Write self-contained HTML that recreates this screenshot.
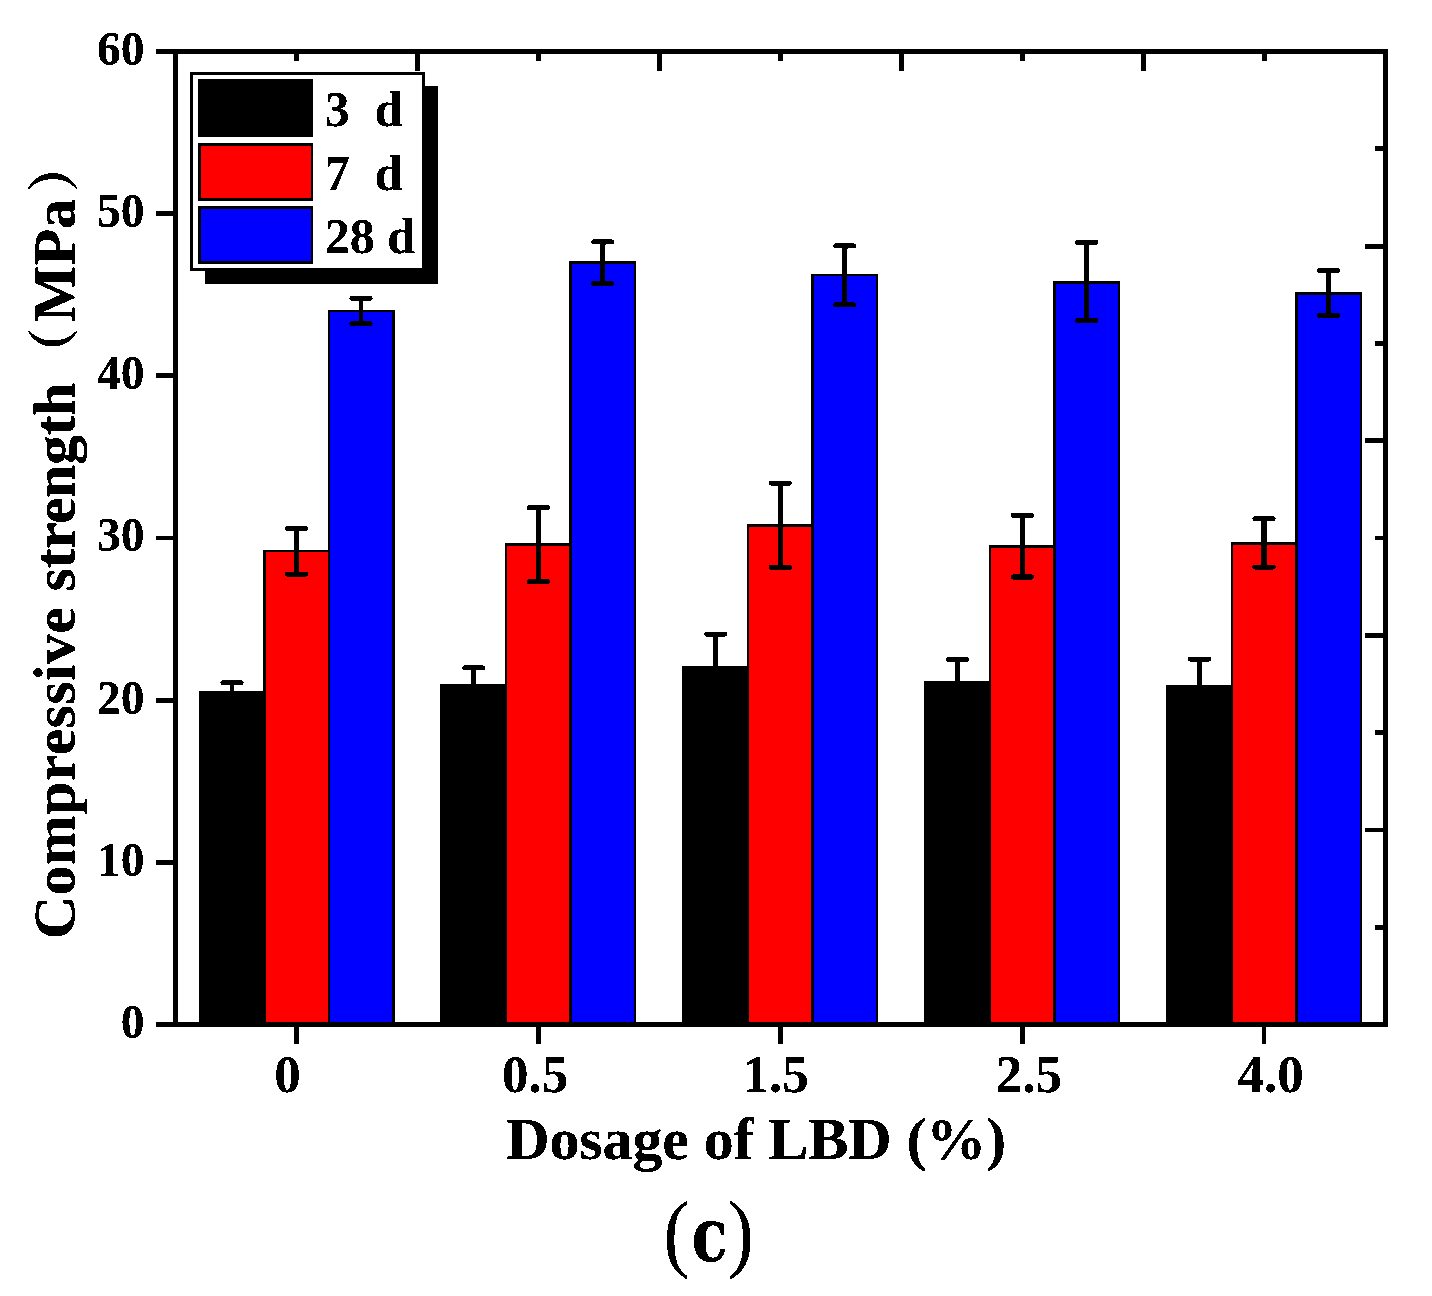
<!DOCTYPE html>
<html lang="en"><head><meta charset="utf-8"><title>Compressive strength vs dosage of LBD (c)</title>
<style>html,body{margin:0;padding:0;background:#fff}svg{display:block}text{font-family:"Liberation Serif","Noto Serif CJK SC",serif;font-weight:bold;fill:#000}</style></head><body>
<svg width="1432" height="1296" viewBox="0 0 1432 1296" shape-rendering="crispEdges">
<rect width="1432" height="1296" fill="#fff"/>
<defs><filter id="bin" filterUnits="userSpaceOnUse" x="0" y="0" width="1432" height="1296" color-interpolation-filters="sRGB"><feComponentTransfer><feFuncA type="discrete" tableValues="0 0 1 1 1"/></feComponentTransfer></filter></defs>
<g stroke="#000" stroke-width="2.5">
<rect x="199.75" y="691.95" width="64.50" height="332.55" fill="#000000"/>
<rect x="264.25" y="551.15" width="64.50" height="473.35" fill="#ff0000"/>
<rect x="328.75" y="310.95" width="64.50" height="713.55" fill="#0000ff"/>
<rect x="441.55" y="685.35" width="64.50" height="339.15" fill="#000000"/>
<rect x="506.05" y="544.55" width="64.50" height="479.95" fill="#ff0000"/>
<rect x="570.55" y="262.25" width="64.50" height="762.25" fill="#0000ff"/>
<rect x="683.55" y="666.95" width="64.50" height="357.55" fill="#000000"/>
<rect x="748.05" y="525.25" width="64.50" height="499.25" fill="#ff0000"/>
<rect x="812.55" y="275.15" width="64.50" height="749.35" fill="#0000ff"/>
<rect x="925.55" y="681.75" width="64.50" height="342.75" fill="#000000"/>
<rect x="990.05" y="546.35" width="64.50" height="478.15" fill="#ff0000"/>
<rect x="1054.55" y="282.55" width="64.50" height="741.95" fill="#0000ff"/>
<rect x="1167.25" y="686.65" width="64.50" height="337.85" fill="#000000"/>
<rect x="1231.75" y="543.35" width="64.50" height="481.15" fill="#ff0000"/>
<rect x="1296.25" y="293.35" width="64.50" height="731.15" fill="#0000ff"/>
</g>
<g stroke="#000" stroke-width="4.8" stroke-linecap="round" fill="none" shape-rendering="auto" filter="url(#bin)">
<path d="M232.00 682.60V701.30" stroke-linecap="butt"/>
<path d="M222.80 682.60H241.20M222.80 701.30H241.20"/>
<path d="M296.50 528.50V574.10" stroke-linecap="butt"/>
<path d="M287.30 528.50H305.70M287.30 574.10H305.70"/>
<path d="M361.00 298.40V323.60" stroke-linecap="butt"/>
<path d="M351.80 298.40H370.20M351.80 323.60H370.20"/>
<path d="M473.80 667.80V702.90" stroke-linecap="butt"/>
<path d="M464.60 667.80H483.00M464.60 702.90H483.00"/>
<path d="M538.30 507.60V581.70" stroke-linecap="butt"/>
<path d="M529.10 507.60H547.50M529.10 581.70H547.50"/>
<path d="M602.80 241.90V283.60" stroke-linecap="butt"/>
<path d="M593.60 241.90H612.00M593.60 283.60H612.00"/>
<path d="M715.80 634.10V699.80" stroke-linecap="butt"/>
<path d="M706.60 634.10H725.00M706.60 699.80H725.00"/>
<path d="M780.30 483.10V567.50" stroke-linecap="butt"/>
<path d="M771.10 483.10H789.50M771.10 567.50H789.50"/>
<path d="M844.80 245.90V304.80" stroke-linecap="butt"/>
<path d="M835.60 245.90H854.00M835.60 304.80H854.00"/>
<path d="M957.80 659.60V703.90" stroke-linecap="butt"/>
<path d="M948.60 659.60H967.00M948.60 703.90H967.00"/>
<path d="M1022.30 515.40V577.00" stroke-linecap="butt"/>
<path d="M1013.10 515.40H1031.50M1013.10 577.00H1031.50"/>
<path d="M1086.80 242.50V320.40" stroke-linecap="butt"/>
<path d="M1077.60 242.50H1096.00M1077.60 320.40H1096.00"/>
<path d="M1199.50 659.20V714.10" stroke-linecap="butt"/>
<path d="M1190.30 659.20H1208.70M1190.30 714.10H1208.70"/>
<path d="M1264.00 518.80V567.10" stroke-linecap="butt"/>
<path d="M1254.80 518.80H1273.20M1254.80 567.10H1273.20"/>
<path d="M1328.50 270.40V315.40" stroke-linecap="butt"/>
<path d="M1319.30 270.40H1337.70M1319.30 315.40H1337.70"/>
</g>
<g stroke="#000" stroke-width="4.8" fill="none">
<path d="M155.80 51.50H1387.50"/>
<path d="M155.80 1024.50H1387.50"/>
<path d="M175.50 51.50V1024.50"/>
<path d="M1385.10 51.50V1024.50"/>
<path d="M155.8 862.33H175.50"/>
<path d="M155.8 700.17H175.50"/>
<path d="M155.8 538.00H175.50"/>
<path d="M155.8 375.83H175.50"/>
<path d="M155.8 213.67H175.50"/>
<path d="M296.50 1024.50V1043.5"/>
<path d="M538.30 1024.50V1043.5"/>
<path d="M780.30 1024.50V1043.5"/>
<path d="M1022.30 1024.50V1043.5"/>
<path d="M1264.00 1024.50V1043.5"/>
<path d="M296.46 51.50V60.80"/>
<path d="M417.42 51.50V71.00"/>
<path d="M538.38 51.50V60.80"/>
<path d="M659.34 51.50V71.00"/>
<path d="M780.30 51.50V60.80"/>
<path d="M901.26 51.50V71.00"/>
<path d="M1022.22 51.50V60.80"/>
<path d="M1143.18 51.50V71.00"/>
<path d="M1264.14 51.50V60.80"/>
<path d="M1374.80 148.80H1385.10"/>
<path d="M1364.80 246.10H1385.10"/>
<path d="M1374.80 343.40H1385.10"/>
<path d="M1364.80 440.70H1385.10"/>
<path d="M1374.80 538.00H1385.10"/>
<path d="M1364.80 635.30H1385.10"/>
<path d="M1374.80 732.60H1385.10"/>
<path d="M1364.80 829.90H1385.10"/>
<path d="M1374.80 927.20H1385.10"/>
</g>
<rect x="204.8" y="85.8" width="233" height="198.1" fill="#000"/>
<rect x="191.35" y="73.3" width="232.1" height="196.2" fill="#fff" stroke="#000" stroke-width="2.7"/>
<rect x="199.25" y="80.25" width="112.5" height="55.3" fill="#000000" stroke="#000" stroke-width="2.5"/>
<rect x="199.25" y="144.35" width="112.5" height="55.3" fill="#ff0000" stroke="#000" stroke-width="2.5"/>
<rect x="199.25" y="207.25" width="112.5" height="55.3" fill="#0000ff" stroke="#000" stroke-width="2.5"/>
<g filter="url(#bin)">
<g font-size="50">
<text x="324.8" y="126.2">3&#160;&#160;d</text>
<text x="324.8" y="189.7">7&#160;&#160;d</text>
<text x="324.8" y="252.7">28&#160;d</text>
</g>
<g font-size="47.5" text-anchor="end">
<text x="144.6" y="1037.90">0</text>
<text x="144.6" y="875.73">10</text>
<text x="144.6" y="713.57">20</text>
<text x="144.6" y="551.40">30</text>
<text x="144.6" y="389.23">40</text>
<text x="144.6" y="227.07">50</text>
<text x="144.6" y="64.90">60</text>
</g>
<g font-size="53" text-anchor="middle">
<text x="287.60" y="1092.3">0</text>
<text x="535.00" y="1092.3">0.5</text>
<text x="775.60" y="1092.3">1.5</text>
<text x="1028.90" y="1092.3">2.5</text>
<text x="1270.50" y="1092.3">4.0</text>
</g>
<text x="506.2" y="1158.7" font-size="60" letter-spacing="-0.1">Dosage of LBD (%)</text>
<text transform="translate(74.5 939.3) rotate(-90)" font-size="60"><tspan letter-spacing="0.33">Compressive </tspan><tspan letter-spacing="-0.5">strength</tspan><tspan x="559.7" dy="-2.5" font-size="52.0" font-weight="900">（</tspan><tspan x="617.0" dy="2.5">MPa</tspan><tspan x="747.2" dy="-2.5" font-size="52.0" font-weight="900">）</tspan></text>
<text transform="translate(663.6 1260.6) scale(0.9 1)" font-size="87" style="font-weight:normal">(</text>
<text transform="translate(691.5 1261.0) scale(0.790 1)" font-size="75.5" style="font-family:'DejaVu Serif',serif">c</text>
<text transform="translate(727.8 1260.6) scale(0.9 1)" font-size="87" style="font-weight:normal">)</text>
</g>
</svg></body></html>
